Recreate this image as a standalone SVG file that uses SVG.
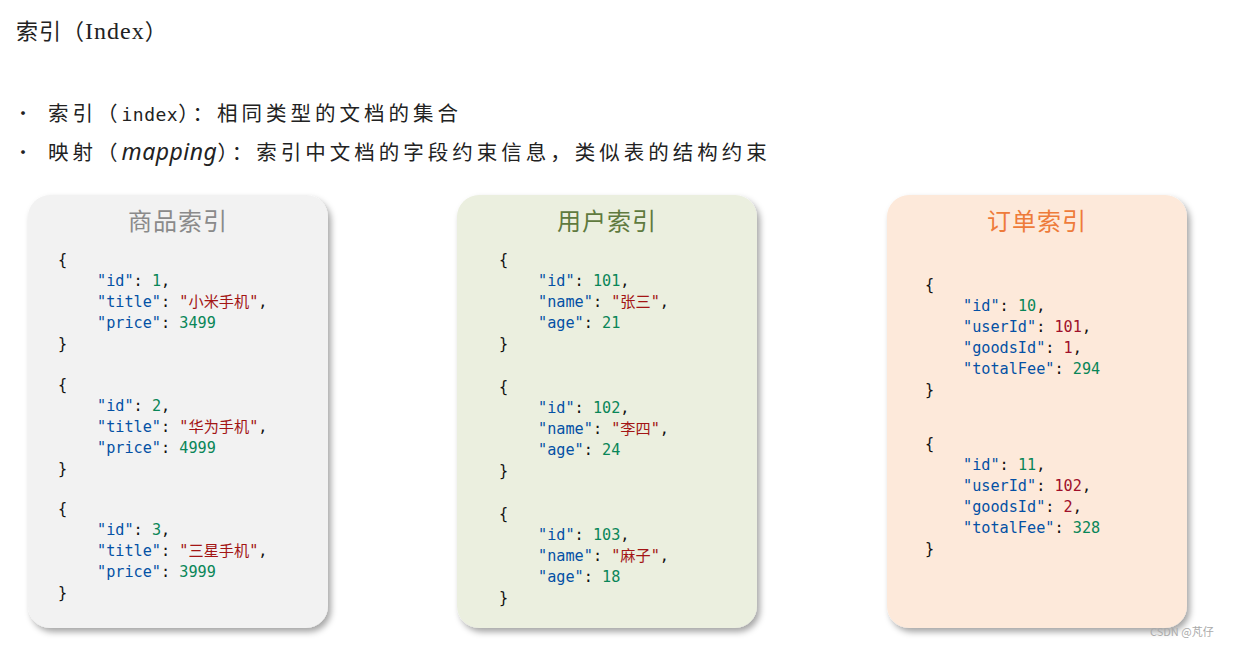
<svg xmlns="http://www.w3.org/2000/svg" width="1234" height="647" viewBox="0 0 1234 647">
<defs>
<filter id="sh" x="-10%" y="-10%" width="125%" height="125%"><feDropShadow dx="3" dy="4" stdDeviation="3" flood-color="#000" flood-opacity="0.35"/></filter>
</defs>
<style>
.h{font-family:"Noto Sans CJK SC",sans-serif;fill:#222}
.t{font-family:"Noto Sans CJK SC",sans-serif;font-size:24px;text-anchor:middle;letter-spacing:1px}
.c{font-family:"DejaVu Sans Mono","Noto Sans CJK SC",monospace;font-size:15.2px;fill:#111}
.k{fill:#0451a5}.n{fill:#098658}.s{fill:#a31515}.r{fill:#a0102a}
</style>
<rect width="1234" height="647" fill="#fff"/>
<text class="h" x="16" y="39" font-size="22" letter-spacing="1">索引（<tspan font-family="'Liberation Serif',serif" font-size="24">Index</tspan>）</text>
<text class="h" x="14" y="120" font-size="18">•</text>
<text class="h" x="48" y="121" font-size="20.5" fill="#333" letter-spacing="4">索引（<tspan font-family="'DejaVu Sans Mono',monospace" font-size="18" letter-spacing="0.5">index</tspan>）：相同类型的文档的集合</text>
<text class="h" x="14" y="159" font-size="18">•</text>
<text class="h" x="48" y="160" font-size="20.5" letter-spacing="4">映射（<tspan font-style="italic" font-family="'Noto Sans',sans-serif" font-size="23" letter-spacing="0.5">mapping</tspan>）：索引中文档的字段约束信息，类似表的结构约束</text>

<g id="goods">
<rect x="28" y="195" width="300" height="433" rx="22" fill="#f2f2f2" filter="url(#sh)"/>
<text class="t" x="178" y="230" fill="#8a8a8a">商品索引</text>
<g class="c">
<text x="58" y="265">{</text>
<text x="97" y="286"><tspan class="k">"id"</tspan>: <tspan class="n">1</tspan>,</text>
<text x="97" y="307"><tspan class="k">"title"</tspan>: <tspan class="s">"小米手机"</tspan>,</text>
<text x="97" y="328"><tspan class="k">"price"</tspan>: <tspan class="n">3499</tspan></text>
<text x="58" y="349">}</text>
<text x="58" y="390">{</text>
<text x="97" y="411"><tspan class="k">"id"</tspan>: <tspan class="n">2</tspan>,</text>
<text x="97" y="432"><tspan class="k">"title"</tspan>: <tspan class="s">"华为手机"</tspan>,</text>
<text x="97" y="453"><tspan class="k">"price"</tspan>: <tspan class="n">4999</tspan></text>
<text x="58" y="474">}</text>
<text x="58" y="514">{</text>
<text x="97" y="535"><tspan class="k">"id"</tspan>: <tspan class="n">3</tspan>,</text>
<text x="97" y="556"><tspan class="k">"title"</tspan>: <tspan class="s">"三星手机"</tspan>,</text>
<text x="97" y="577"><tspan class="k">"price"</tspan>: <tspan class="n">3999</tspan></text>
<text x="58" y="598">}</text>
</g>
</g>

<g id="users">
<rect x="457" y="195" width="300" height="433" rx="22" fill="#ebefdf" filter="url(#sh)"/>
<text class="t" x="607" y="230" fill="#5f7a3e">用户索引</text>
<g class="c">
<text x="499" y="265">{</text>
<text x="538" y="286"><tspan class="k">"id"</tspan>: <tspan class="n">101</tspan>,</text>
<text x="538" y="307"><tspan class="k">"name"</tspan>: <tspan class="s">"张三"</tspan>,</text>
<text x="538" y="328"><tspan class="k">"age"</tspan>: <tspan class="n">21</tspan></text>
<text x="499" y="349">}</text>
<text x="499" y="392">{</text>
<text x="538" y="413"><tspan class="k">"id"</tspan>: <tspan class="n">102</tspan>,</text>
<text x="538" y="434"><tspan class="k">"name"</tspan>: <tspan class="s">"李四"</tspan>,</text>
<text x="538" y="455"><tspan class="k">"age"</tspan>: <tspan class="n">24</tspan></text>
<text x="499" y="476">}</text>
<text x="499" y="519">{</text>
<text x="538" y="540"><tspan class="k">"id"</tspan>: <tspan class="n">103</tspan>,</text>
<text x="538" y="561"><tspan class="k">"name"</tspan>: <tspan class="s">"麻子"</tspan>,</text>
<text x="538" y="582"><tspan class="k">"age"</tspan>: <tspan class="n">18</tspan></text>
<text x="499" y="603">}</text>
</g>
</g>

<g id="orders">
<rect x="887" y="195" width="300" height="433" rx="22" fill="#fde9da" filter="url(#sh)"/>
<text class="t" x="1037" y="230" fill="#ee7b3a">订单索引</text>
<g class="c">
<text x="925" y="290">{</text>
<text x="963" y="311"><tspan class="k">"id"</tspan>: <tspan class="n">10</tspan>,</text>
<text x="963" y="332"><tspan class="k">"userId"</tspan>: <tspan class="r">101</tspan>,</text>
<text x="963" y="353"><tspan class="k">"goodsId"</tspan>: <tspan class="r">1</tspan>,</text>
<text x="963" y="374"><tspan class="k">"totalFee"</tspan>: <tspan class="n">294</tspan></text>
<text x="925" y="395">}</text>
<text x="925" y="449">{</text>
<text x="963" y="470"><tspan class="k">"id"</tspan>: <tspan class="n">11</tspan>,</text>
<text x="963" y="491"><tspan class="k">"userId"</tspan>: <tspan class="r">102</tspan>,</text>
<text x="963" y="512"><tspan class="k">"goodsId"</tspan>: <tspan class="r">2</tspan>,</text>
<text x="963" y="533"><tspan class="k">"totalFee"</tspan>: <tspan class="n">328</tspan></text>
<text x="925" y="554">}</text>
</g>
</g>
<g id="connectors"/>
<text x="1150" y="636" font-family="'Noto Sans CJK SC',sans-serif" font-size="11" fill="#aaa">CSDN @芃仔</text>
</svg>
